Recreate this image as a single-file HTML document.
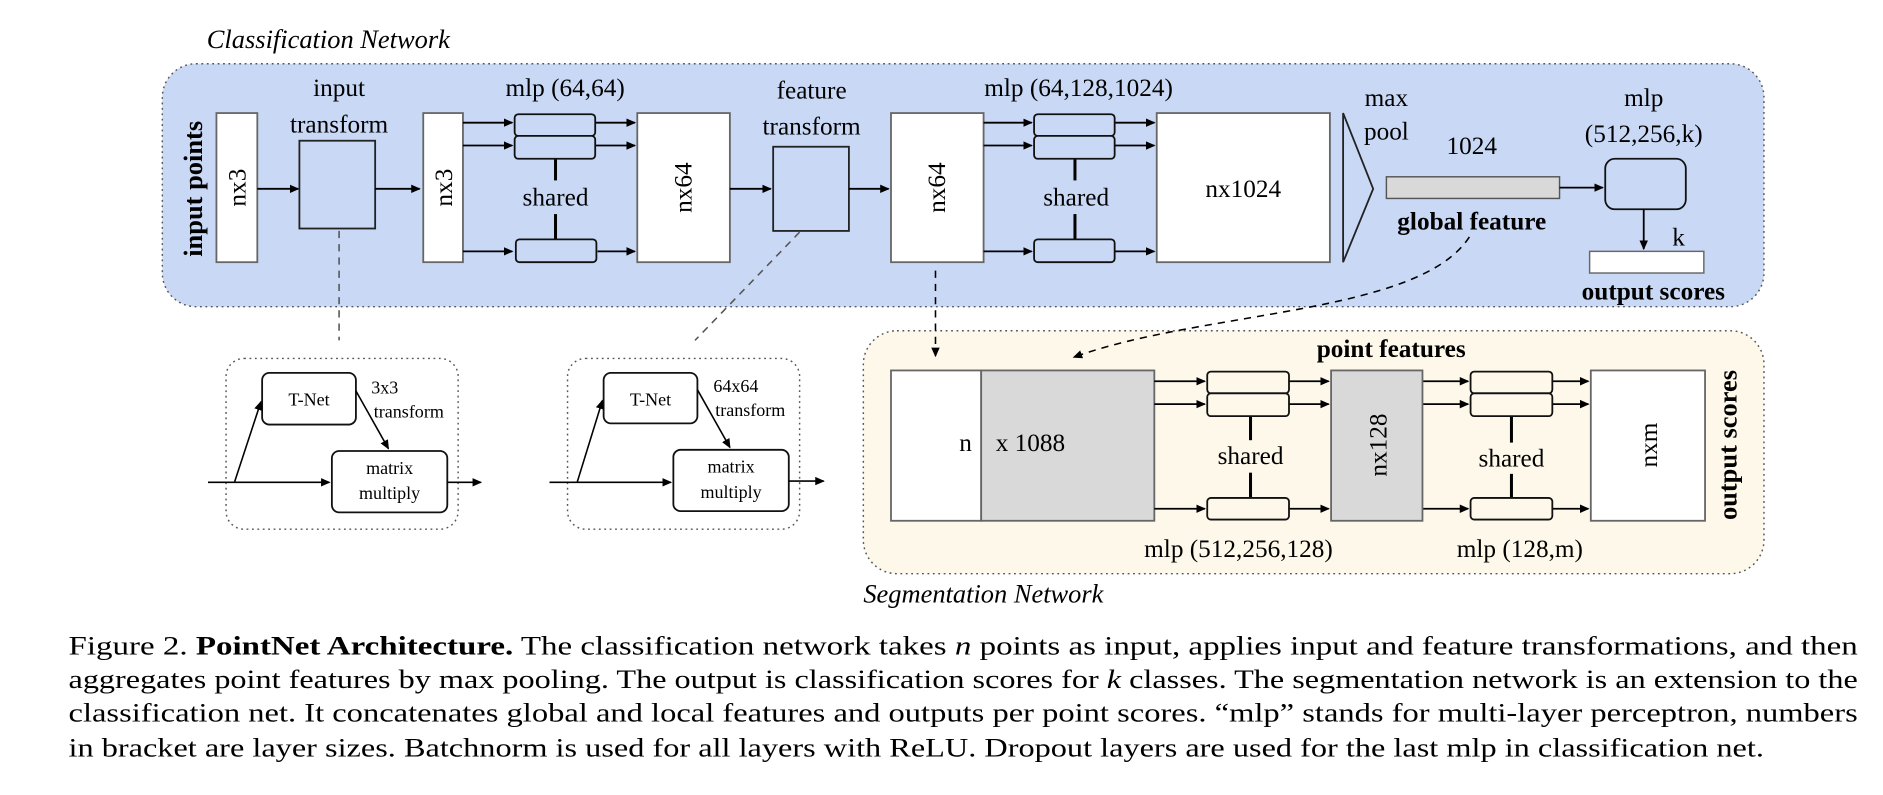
<!DOCTYPE html>
<html><head><meta charset="utf-8"><style>html,body{margin:0;padding:0;background:#fff}svg{display:block}</style></head><body>
<svg width="1883" height="795" viewBox="0 0 1566 661" preserveAspectRatio="none" xmlns="http://www.w3.org/2000/svg" font-family="Liberation Serif, serif">
<defs>
<marker id="a" markerWidth="8" markerHeight="8" refX="7" refY="4" orient="auto" markerUnits="userSpaceOnUse"><path d="M0,0.5 L8,4 L0,7.5 z" fill="#000"/></marker>
</defs>
<rect x="135" y="53" width="1332" height="202" rx="28" fill="#c9d9f5" stroke="#555" stroke-width="1.2" stroke-dasharray="1.5,3"/>
<rect x="718" y="275" width="749" height="202" rx="28" fill="#fdf8ea" stroke="#555" stroke-width="1.2" stroke-dasharray="1.5,3"/>
<text x="172" y="40" font-size="22" font-style="italic">Classification Network</text>
<text x="718" y="501" font-size="22" font-style="italic">Segmentation Network</text>
<g font-size="21" text-anchor="middle">
<text transform="translate(161,157) rotate(-90)" font-weight="bold" font-size="22" dy="7">input points</text>
<rect x="180" y="94" width="34" height="124" fill="#fff" stroke="#666" stroke-width="1.5"/>
<text transform="translate(197,156) rotate(-90)" dy="7">nx3</text>
<line x1="214" y1="157" x2="248" y2="157" stroke="#000" stroke-width="1.5" marker-end="url(#a)"/>
<rect x="249" y="117" width="63" height="73" fill="#c9d9f5" stroke="#222" stroke-width="1.5"/>
<text x="282" y="80">input</text><text x="282" y="110">transform</text>
<line x1="312" y1="157" x2="349" y2="157" stroke="#000" stroke-width="1.5" marker-end="url(#a)"/>
<rect x="352" y="94" width="33" height="124" fill="#fff" stroke="#666" stroke-width="1.5"/>
<text transform="translate(369,156) rotate(-90)" dy="7">nx3</text>
<text x="470" y="80">mlp (64,64)</text>
<g stroke="#000" stroke-width="1.5">
<line x1="385" y1="102" x2="426" y2="102" marker-end="url(#a)"/><line x1="385" y1="121" x2="426" y2="121" marker-end="url(#a)"/><line x1="385" y1="209" x2="426" y2="209" marker-end="url(#a)"/>
<line x1="495" y1="102" x2="528" y2="102" marker-end="url(#a)"/><line x1="495" y1="121" x2="528" y2="121" marker-end="url(#a)"/><line x1="497" y1="209" x2="528" y2="209" marker-end="url(#a)"/>
<line x1="462" y1="132" x2="462" y2="150" stroke-width="2.5"/><line x1="462" y1="178" x2="462" y2="199" stroke-width="2.5"/>
</g>
<g fill="#c9d9f5" stroke="#111" stroke-width="1.5">
<rect x="428" y="95" width="67" height="18" rx="3"/><rect x="428" y="113" width="67" height="19" rx="3"/><rect x="429" y="199" width="67" height="19" rx="3"/>
</g>
<text x="462" y="171">shared</text>
<rect x="530" y="94" width="77" height="124" fill="#fff" stroke="#666" stroke-width="1.5"/>
<text transform="translate(568,156) rotate(-90)" dy="7">nx64</text>
<line x1="607" y1="157" x2="641" y2="157" stroke="#000" stroke-width="1.5" marker-end="url(#a)"/>
<rect x="643" y="122" width="63" height="70" fill="#c9d9f5" stroke="#222" stroke-width="1.5"/>
<text x="675" y="82">feature</text><text x="675" y="112">transform</text>
<line x1="706" y1="157" x2="739" y2="157" stroke="#000" stroke-width="1.5" marker-end="url(#a)"/>
<rect x="741" y="94" width="77" height="124" fill="#fff" stroke="#666" stroke-width="1.5"/>
<text transform="translate(779,156) rotate(-90)" dy="7">nx64</text>
<text x="897" y="80">mlp (64,128,1024)</text>
<g stroke="#000" stroke-width="1.5">
<line x1="818" y1="102" x2="858" y2="102" marker-end="url(#a)"/><line x1="818" y1="121" x2="858" y2="121" marker-end="url(#a)"/><line x1="818" y1="209" x2="858" y2="209" marker-end="url(#a)"/>
<line x1="927" y1="102" x2="960" y2="102" marker-end="url(#a)"/><line x1="927" y1="121" x2="960" y2="121" marker-end="url(#a)"/><line x1="927" y1="209" x2="960" y2="209" marker-end="url(#a)"/>
<line x1="894" y1="132" x2="894" y2="150" stroke-width="2.5"/><line x1="894" y1="178" x2="894" y2="199" stroke-width="2.5"/>
</g>
<g fill="#c9d9f5" stroke="#111" stroke-width="1.5">
<rect x="860" y="95" width="67" height="18" rx="3"/><rect x="860" y="113" width="67" height="19" rx="3"/><rect x="860" y="199" width="67" height="19" rx="3"/>
</g>
<text x="895" y="171">shared</text>
<rect x="962" y="94" width="144" height="124" fill="#fff" stroke="#666" stroke-width="1.5"/>
<text x="1034" y="164">nx1024</text>
<polygon points="1117,94 1142,157 1117,218" fill="#c9d9f5" stroke="#222" stroke-width="1.5"/>
<text x="1153" y="88">max</text><text x="1153" y="116">pool</text>
<text x="1224" y="128">1024</text>
<rect x="1153" y="147" width="144" height="18" fill="#d9d9d9" stroke="#555" stroke-width="1.2"/>
<text x="1224" y="191" font-weight="bold">global feature</text>
<line x1="1297" y1="156" x2="1333" y2="156" stroke="#000" stroke-width="1.5" marker-end="url(#a)"/>
<text x="1367" y="88">mlp</text><text x="1367" y="118">(512,256,k)</text>
<rect x="1335" y="132" width="67" height="42" rx="8" fill="#c9d9f5" stroke="#111" stroke-width="1.5"/>
<line x1="1367" y1="174" x2="1367" y2="207" stroke="#000" stroke-width="1.5" marker-end="url(#a)"/>
<text x="1396" y="204">k</text>
<rect x="1322" y="209" width="95" height="18" fill="#fff" stroke="#666" stroke-width="1.2"/>
<text x="1375" y="249" font-weight="bold">output scores</text>

<g fill="none" stroke-width="1.3" stroke-dasharray="6,5">
<line x1="282" y1="192" x2="282" y2="283" stroke="#555"/>
<line x1="665" y1="193" x2="578" y2="283" stroke="#555"/>
<line x1="778" y1="225" x2="778" y2="296" stroke="#000" marker-end="url(#a)"/>
<path d="M1222,197 C1180,262 1000,258 893,297" stroke="#000" marker-end="url(#a)"/>
</g>

<g font-size="15">
<rect x="188" y="298" width="193" height="142" rx="15" fill="#fff" stroke="#555" stroke-width="1.2" stroke-dasharray="1.5,3"/>
<rect x="218" y="310" width="78" height="43" rx="6" fill="#fff" stroke="#111" stroke-width="1.5"/>
<text x="257" y="337">T-Net</text><text x="320" y="327">3x3</text><text x="340" y="347">transform</text>
<rect x="276" y="375" width="96" height="51" rx="6" fill="#fff" stroke="#111" stroke-width="1.5"/>
<text x="324" y="394">matrix</text><text x="324" y="415">multiply</text>
<g stroke="#000" stroke-width="1.3">
<line x1="173" y1="401" x2="274" y2="401" marker-end="url(#a)"/><line x1="195" y1="401" x2="217" y2="334" marker-end="url(#a)"/>
<line x1="296" y1="325" x2="323" y2="373" marker-end="url(#a)"/><line x1="372" y1="401" x2="400" y2="401" marker-end="url(#a)"/>
</g>
<rect x="472" y="298" width="193" height="142" rx="15" fill="#fff" stroke="#555" stroke-width="1.2" stroke-dasharray="1.5,3"/>
<rect x="502" y="310" width="78" height="42" rx="6" fill="#fff" stroke="#111" stroke-width="1.5"/>
<text x="541" y="337">T-Net</text><text x="612" y="326">64x64</text><text x="624" y="346">transform</text>
<rect x="560" y="374" width="96" height="51" rx="6" fill="#fff" stroke="#111" stroke-width="1.5"/>
<text x="608" y="393">matrix</text><text x="608" y="414">multiply</text>
<g stroke="#000" stroke-width="1.3">
<line x1="457" y1="401" x2="558" y2="401" marker-end="url(#a)"/><line x1="480" y1="401" x2="501" y2="333" marker-end="url(#a)"/>
<line x1="580" y1="324" x2="607" y2="372" marker-end="url(#a)"/><line x1="656" y1="400" x2="685" y2="400" marker-end="url(#a)"/>
</g>
</g>

<text x="1157" y="297" font-weight="bold">point features</text>
<rect x="741" y="308" width="75" height="125" fill="#fff" stroke="#666" stroke-width="1.5"/>
<rect x="816" y="308" width="144" height="125" fill="#d9d9d9" stroke="#666" stroke-width="1.5"/>
<text x="803" y="375">n</text><text x="857" y="375">x 1088</text>
<g stroke="#000" stroke-width="1.5">
<line x1="960" y1="317" x2="1002" y2="317" marker-end="url(#a)"/><line x1="960" y1="336" x2="1002" y2="336" marker-end="url(#a)"/><line x1="960" y1="423" x2="1002" y2="423" marker-end="url(#a)"/>
<line x1="1072" y1="317" x2="1105" y2="317" marker-end="url(#a)"/><line x1="1072" y1="336" x2="1105" y2="336" marker-end="url(#a)"/><line x1="1072" y1="423" x2="1105" y2="423" marker-end="url(#a)"/>
<line x1="1040" y1="346" x2="1040" y2="366" stroke-width="2.5"/><line x1="1040" y1="393" x2="1040" y2="414" stroke-width="2.5"/>
<line x1="1183" y1="317" x2="1221" y2="317" marker-end="url(#a)"/><line x1="1183" y1="336" x2="1221" y2="336" marker-end="url(#a)"/><line x1="1183" y1="423" x2="1221" y2="423" marker-end="url(#a)"/>
<line x1="1291" y1="317" x2="1321" y2="317" marker-end="url(#a)"/><line x1="1291" y1="336" x2="1321" y2="336" marker-end="url(#a)"/><line x1="1291" y1="423" x2="1321" y2="423" marker-end="url(#a)"/>
<line x1="1257" y1="346" x2="1257" y2="368" stroke-width="2.5"/><line x1="1257" y1="394" x2="1257" y2="414" stroke-width="2.5"/>
</g>
<g fill="#fdf8ea" stroke="#111" stroke-width="1.5">
<rect x="1004" y="309" width="68" height="18" rx="3"/><rect x="1004" y="327" width="68" height="19" rx="3"/><rect x="1004" y="414" width="68" height="18" rx="3"/>
<rect x="1223" y="309" width="68" height="18" rx="3"/><rect x="1223" y="327" width="68" height="19" rx="3"/><rect x="1223" y="414" width="68" height="18" rx="3"/>
</g>
<text x="1040" y="386">shared</text><text x="1257" y="388">shared</text>
<rect x="1107" y="308" width="76" height="125" fill="#d9d9d9" stroke="#666" stroke-width="1.5"/>
<text transform="translate(1146,370) rotate(-90)" dy="7">nx128</text>
<rect x="1323" y="308" width="95" height="125" fill="#fff" stroke="#666" stroke-width="1.5"/>
<text transform="translate(1371,370) rotate(-90)" dy="7">nxm</text>
<text transform="translate(1437,370) rotate(-90)" font-weight="bold" font-size="22" dy="7">output scores</text>
<text x="1030" y="463">mlp (512,256,128)</text><text x="1264" y="463">mlp (128,m)</text>
</g>
<g font-size="22">
<text x="57" y="544" textLength="1488" lengthAdjust="spacingAndGlyphs">Figure 2. <tspan font-weight="bold">PointNet Architecture.</tspan> The classification network takes <tspan font-style="italic">n</tspan> points as input, applies input and feature transformations, and then</text>
<text x="57" y="572" textLength="1488" lengthAdjust="spacingAndGlyphs">aggregates point features by max pooling. The output is classification scores for <tspan font-style="italic">k</tspan> classes. The segmentation network is an extension to the</text>
<text x="57" y="600" textLength="1488" lengthAdjust="spacingAndGlyphs">classification net. It concatenates global and local features and outputs per point scores. “mlp” stands for multi-layer perceptron, numbers</text>
<text x="57" y="629" textLength="1410" lengthAdjust="spacingAndGlyphs">in bracket are layer sizes. Batchnorm is used for all layers with ReLU. Dropout layers are used for the last mlp in classification net.</text>
</g>
</svg>
</body></html>
